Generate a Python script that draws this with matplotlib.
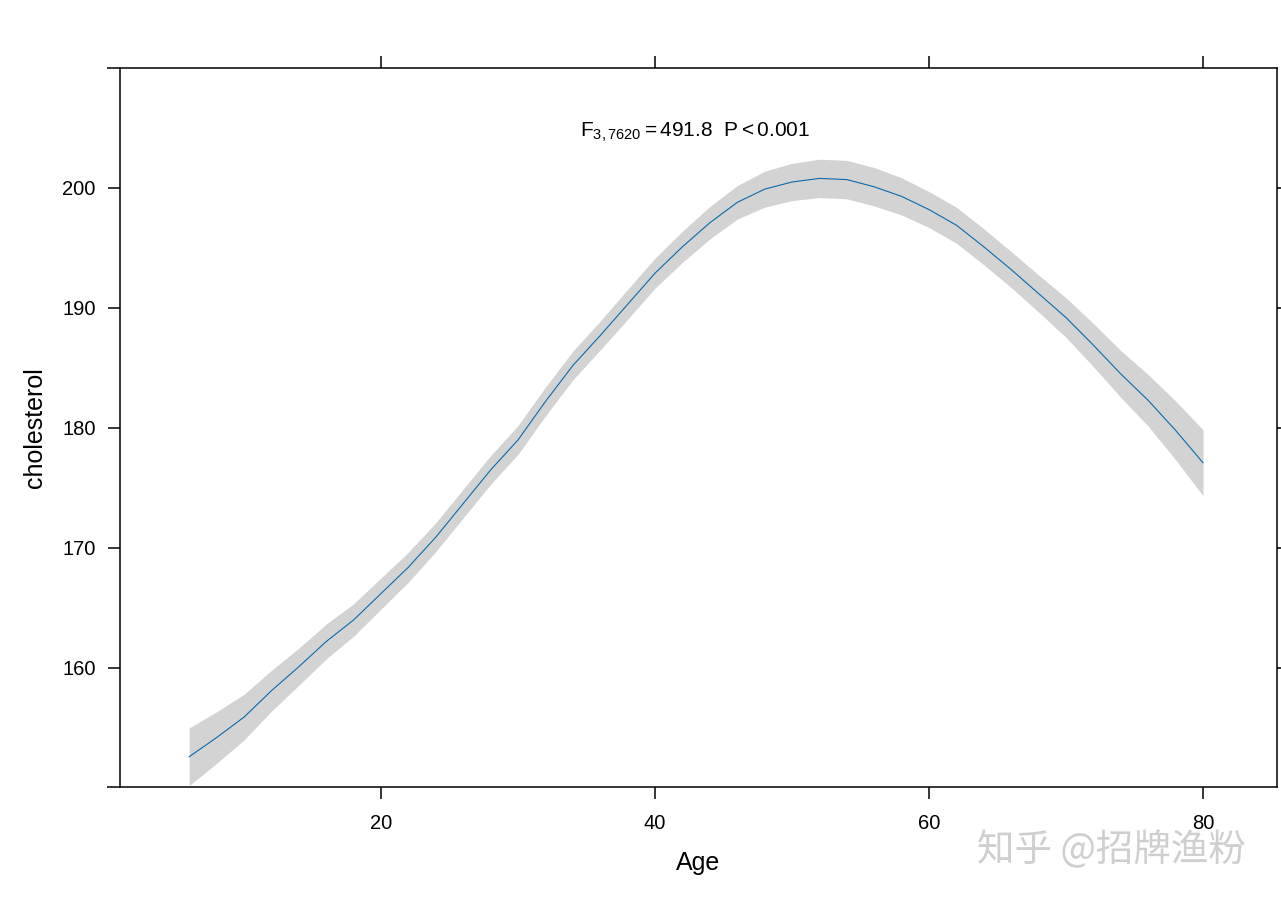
import matplotlib
matplotlib.use("Agg")
import matplotlib.pyplot as plt

plt.rcParams['font.family'] = ['Liberation Sans', 'DejaVu Sans']
plt.rcParams['mathtext.fontset'] = 'custom'
plt.rcParams['mathtext.rm'] = 'Liberation Sans'
plt.rcParams['mathtext.it'] = 'Liberation Sans'

# values
age = [6, 8, 10, 12, 14, 16, 18, 20, 22, 24, 26, 28, 30, 32, 34, 36, 38, 40, 42,
       44, 46, 48, 50, 52, 54, 56, 58, 60, 62, 64, 66, 68, 70, 72, 74, 76, 78, 80]
fit = [152.6, 154.2, 155.9, 158.1, 160.1, 162.2, 164.0, 166.2, 168.4, 170.9,
       173.7, 176.5, 179.0, 182.2, 185.2, 187.7, 190.3, 192.9, 195.1, 197.1,
       198.8, 199.9, 200.5, 200.8, 200.7, 200.1, 199.3, 198.2, 196.9, 195.1,
       193.2, 191.2, 189.2, 186.9, 184.5, 182.3, 179.8, 177.1]
upper = [155.0, 156.35, 157.8, 159.8, 161.65, 163.65, 165.35, 167.5, 169.65, 172.1,
         174.9, 177.7, 180.2, 183.4, 186.4, 188.9, 191.55, 194.15, 196.4, 198.45,
         200.2, 201.4, 202.05, 202.4, 202.3, 201.7, 200.85, 199.7, 198.4, 196.6,
         194.7, 192.75, 190.85, 188.7, 186.45, 184.45, 182.25, 179.85]
lower = [150.2, 152.05, 154.0, 156.4, 158.55, 160.75, 162.65, 164.9, 167.15, 169.7,
         172.5, 175.3, 177.8, 181.0, 184.0, 186.5, 189.05, 191.65, 193.8, 195.75,
         197.4, 198.4, 198.95, 199.2, 199.1, 198.5, 197.75, 196.7, 195.4, 193.6,
         191.7, 189.65, 187.55, 185.1, 182.55, 180.15, 177.35, 174.35]

x_ticks = [20, 40, 60, 80]
y_ticks = [160, 170, 180, 190, 200]
x_lim = (0.95, 85.4)
y_lim = (150.08, 210.0)

fig = plt.figure(figsize=(12.81, 9.0), dpi=100)
ax = fig.add_axes([120 / 1281, 113 / 900, 1157 / 1281, 719 / 900])

ax.fill_between(age, lower, upper, color='#d3d3d3', linewidth=0)
ax.plot(age, fit, color='#0a6aad', linewidth=0.8)

ax.set_xlim(*x_lim)
ax.set_ylim(*y_lim)
ax.set_xticks(x_ticks)
ax.set_yticks(y_ticks)
# small marks at the ends of the left axis
ax.set_yticks(list(y_lim), minor=True)

for s in ax.spines.values():
    s.set_linewidth(1.1)
ax.tick_params(which='major', direction='out', length=8.6, width=1.1,
               top=True, right=True, labelsize=14.5, pad=9)
ax.tick_params(axis='x', which='major', pad=11)
ax.tick_params(axis='y', which='minor', direction='out', length=9.4, width=1.1,
               left=True, right=False, labelleft=False)

ax.set_xlabel('Age', fontsize=18, labelpad=13)
ax.set_ylabel('cholesterol', fontsize=18, labelpad=11)

ax.text(42.9, 204.6, r'$\mathregular{F_{3,7620}=491.8\ \ P<0.001}$',
        ha='center', va='center', fontsize=15)

fig.text(0.868, 0.0545, '知乎 @招牌渔粉', ha='center', va='center', fontsize=27,
         color='#cfcfcf', family=['Noto Sans CJK SC', 'DejaVu Sans'])

fig.savefig('out.png', dpi=100)
